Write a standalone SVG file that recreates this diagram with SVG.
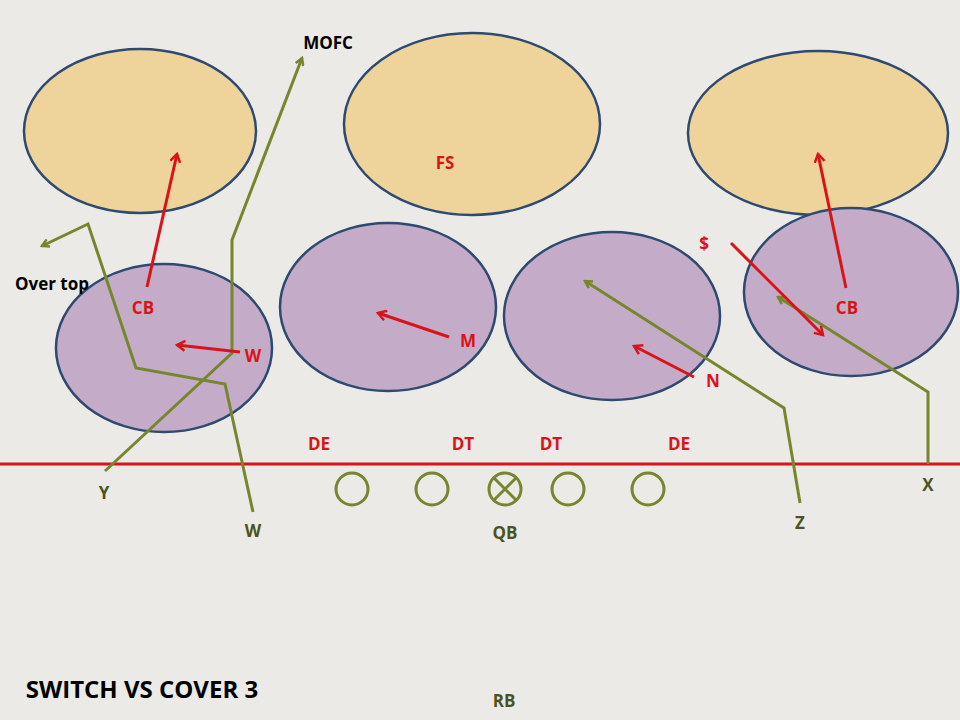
<svg xmlns="http://www.w3.org/2000/svg" width="960" height="720" viewBox="0 0 960 720">
<style>
.y{fill:#eed49b;stroke:#2f4a70;stroke-width:2.5}
.p{fill:#c4acc8;stroke:#2f4a70;stroke-width:2.5}
.g{fill:none;stroke:#76862e;stroke-width:3;stroke-linejoin:miter}
.r{fill:none;stroke:#d8141a;stroke-width:3}
.c{fill:none;stroke:#76862e;stroke-width:3}
text{font-family:"Open Sans","Liberation Sans",sans-serif;font-weight:bold;font-size:17px;text-anchor:middle}
.tr{fill:#d8141a}.tg{fill:#4a5420}.tk{fill:#000}
</style>
<defs>
<marker id="ag" markerWidth="10" markerHeight="10" refX="8" refY="5" orient="auto" markerUnits="userSpaceOnUse" viewBox="0 0 10 10"><path d="M1,1 L8,5 L1,9" fill="none" stroke="#76862e" stroke-width="2.5"/></marker>
<marker id="ar" markerWidth="12" markerHeight="12" refX="9" refY="6" orient="auto" markerUnits="userSpaceOnUse" viewBox="0 0 12 12"><path d="M1,1 L9,6 L1,11" fill="none" stroke="#d8141a" stroke-width="2.5"/></marker>
</defs>
<rect width="960" height="720" fill="#ebeae6"/>
<g id="zones">
<ellipse id="deepL" class="y" cx="140" cy="131" rx="116" ry="82"/>
<ellipse id="deepM" class="y" cx="472" cy="124" rx="128" ry="91"/>
<ellipse id="deepR" class="y" cx="818" cy="133" rx="130" ry="82"/>
<ellipse id="flatL" class="p" cx="164" cy="348" rx="108" ry="84"/>
<ellipse id="hookL" class="p" cx="388" cy="307" rx="108" ry="84"/>
<ellipse id="hookR" class="p" cx="612" cy="316" rx="108" ry="84"/>
<ellipse id="flatR" class="p" cx="851" cy="292" rx="107" ry="84"/>
</g>
<line x1="0" y1="464" x2="960" y2="464" stroke="#d8141a" stroke-width="3"/>
<g id="connectors">
<polyline class="g" points="105,471 232,353 232,240 302,58" marker-end="url(#ag)"/>
<polyline class="g" points="253,512 225,384 136,368 88,224 42,246" marker-end="url(#ag)"/>
<polyline class="g" points="800,503 784,408 585,281" marker-end="url(#ag)"/>
<polyline class="g" points="928,464 928,392 778,297" marker-end="url(#ag)"/>
<line class="r" x1="147" y1="287" x2="177" y2="154" marker-end="url(#ar)"/>
<line class="r" x1="240" y1="352" x2="177" y2="345" marker-end="url(#ar)"/>
<line class="r" x1="449" y1="337" x2="378" y2="313" marker-end="url(#ar)"/>
<line class="r" x1="694" y1="377" x2="634" y2="346" marker-end="url(#ar)"/>
<line class="r" x1="731" y1="243" x2="823" y2="335" marker-end="url(#ar)"/>
<line class="r" x1="846" y1="288" x2="818" y2="154" marker-end="url(#ar)"/>
</g>
<g id="line">
<circle class="c" cx="352" cy="489" r="16"/>
<circle class="c" cx="432" cy="489" r="16"/>
<g id="qb"><circle class="c" cx="505" cy="489" r="16"/><path class="c" d="M494,478 L516,500 M516,478 L494,500"/></g>
<circle class="c" cx="568" cy="489" r="16"/>
<circle class="c" cx="648" cy="489" r="16"/>
</g>
<g id="labels">
<text class="tr" x="143" y="314">CB</text>
<text class="tr" x="253" y="362">W</text>
<text class="tr" x="468" y="347">M</text>
<text class="tr" x="713" y="387">N</text>
<text class="tr" x="704" y="250">$</text>
<text class="tr" x="847" y="314">CB</text>
<text class="tr" x="445" y="169">FS</text>
<text class="tr" x="319" y="450">DE</text>
<text class="tr" x="463" y="450">DT</text>
<text class="tr" x="551" y="450">DT</text>
<text class="tr" x="679" y="450">DE</text>
<text class="tg" x="104" y="499">Y</text>
<text class="tg" x="253" y="537">W</text>
<text class="tg" x="505" y="539">QB</text>
<text class="tg" x="800" y="529">Z</text>
<text class="tg" x="928" y="491">X</text>
<text class="tg" x="504" y="707">RB</text>
<text class="tk" x="328" y="49">MOFC</text>
<text class="tk" x="52" y="290">Over top</text>
<text class="tk" x="142" y="698" style="font-size:24px">SWITCH VS COVER 3</text>
</g>
</svg>
